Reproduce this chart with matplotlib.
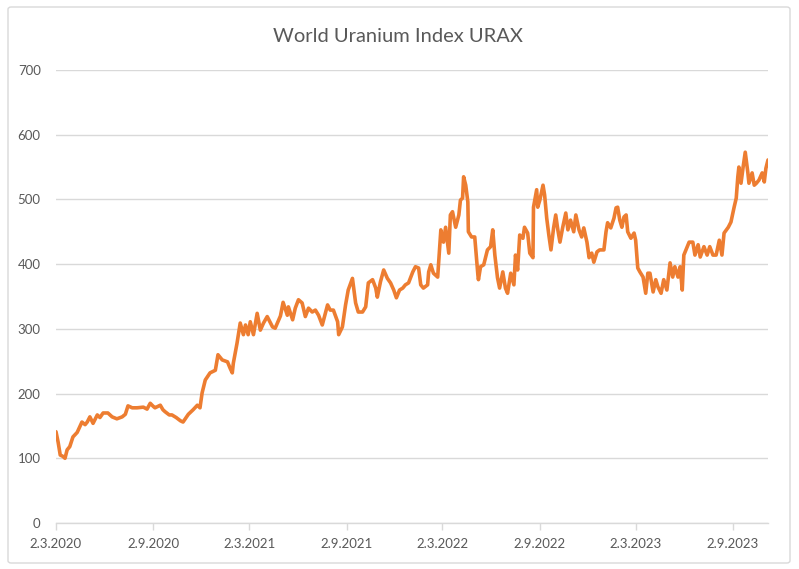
import numpy as np
import matplotlib
matplotlib.use("Agg")
import matplotlib.pyplot as plt
from matplotlib.patches import FancyBboxPatch

title = "World Uranium Index URAX"
start_date = np.datetime64("2020-03-02")

# days since 2.3.2020
day_offsets = [
    0, 4, 8, 13, 17, 21, 26, 32, 40, 49, 55, 59, 64, 70, 78, 83, 89, 98, 106, 115,
    125, 131, 136, 144, 153, 165, 172, 178, 184, 187, 197, 202, 206, 214, 219, 227, 235, 240, 250, 259,
    267, 272, 276, 282, 291, 301, 306, 314, 324, 329, 333, 335, 342, 348, 354, 358, 363, 367, 373, 380,
    386, 392, 399, 409, 414, 424, 429, 437, 439, 447, 452, 458, 465, 471, 477, 484, 490, 496, 503, 513,
    518, 524, 532, 534, 541, 547, 552, 560, 566, 571, 579, 585, 590, 598, 604, 607, 613, 619, 626, 632,
    638, 643, 649, 655, 660, 666, 674, 679, 685, 689, 694, 702, 704, 708, 713, 721, 727, 732, 736, 742,
    745, 749, 755, 761, 764, 768, 770, 774, 778, 779, 785, 791, 797, 798, 802, 808, 815, 821, 825, 829,
    834, 838, 844, 849, 853, 859, 865, 868, 872, 876, 882, 885, 891, 895, 901, 902, 908, 910, 914, 920,
    923, 927, 931, 935, 940, 944, 948, 952, 957, 963, 967, 972, 978, 982, 988, 993, 997, 1003, 1007, 1012,
    1016, 1022, 1027, 1035, 1039, 1042, 1048, 1054, 1058, 1061, 1065, 1069, 1073, 1077, 1080, 1086, 1092, 1095, 1099, 1103,
    1109, 1114, 1118, 1122, 1128, 1133, 1137, 1143, 1148, 1154, 1160, 1165, 1169, 1175, 1179, 1183, 1186, 1190, 1196, 1203,
    1207, 1213, 1217, 1224, 1230, 1235, 1241, 1247, 1253, 1258, 1262, 1270, 1275, 1281, 1285, 1288, 1290, 1294, 1298, 1302,
    1307, 1309, 1315, 1319, 1323, 1328, 1334, 1338, 1341, 1345,
]

urax_values = [
    141, 125, 105, 103, 100, 113, 118, 133, 140, 156, 152, 156, 164, 154, 167, 163, 170, 170, 164, 161,
    164, 168, 181, 178, 178, 179, 176, 185, 180, 178, 182, 175, 172, 167, 167, 163, 158, 156, 168, 175,
    182, 178, 201, 221, 232, 236, 260, 252, 249, 239, 232, 247, 278, 309, 291, 306, 291, 311, 291, 324,
    298, 309, 319, 303, 301, 320, 341, 321, 334, 314, 332, 345, 340, 319, 332, 326, 329, 321, 306, 337,
    329, 329, 311, 291, 303, 337, 360, 378, 340, 326, 326, 334, 371, 376, 363, 349, 373, 391, 378, 371,
    360, 348, 360, 363, 368, 371, 388, 396, 394, 368, 363, 368, 388, 399, 386, 380, 453, 434, 457, 417,
    476, 481, 457, 476, 499, 502, 535, 522, 496, 450, 442, 442, 383, 376, 396, 399, 422, 427, 453, 414,
    379, 363, 388, 363, 355, 386, 368, 414, 391, 445, 440, 457, 448, 417, 410, 488, 515, 488, 499, 522,
    507, 471, 445, 422, 456, 476, 453, 434, 456, 479, 453, 468, 450, 476, 453, 442, 456, 434, 410, 417,
    403, 419, 422, 422, 450, 464, 456, 471, 487, 488, 468, 457, 473, 476, 450, 440, 448, 437, 394, 388,
    380, 355, 386, 386, 357, 376, 365, 355, 376, 360, 402, 380, 396, 380, 396, 360, 414, 422, 434, 434,
    414, 430, 411, 427, 414, 427, 414, 414, 437, 414, 448, 457, 465, 488, 502, 535, 550, 525, 550, 573,
    541, 525, 541, 522, 525, 530, 541, 527, 548, 561,
]

tick_dates = ["2020-03-02", "2020-09-02", "2021-03-02", "2021-09-02",
              "2022-03-02", "2022-09-02", "2023-03-02", "2023-09-02"]
tick_labels = ["2.3.2020", "2.9.2020", "2.3.2021", "2.9.2021",
               "2.3.2022", "2.9.2022", "2.3.2023", "2.9.2023"]
y_ticks = [0, 100, 200, 300, 400, 500, 600, 700]

dates = (start_date + np.array(day_offsets).astype("timedelta64[D]")).astype(object)

W, H = 799, 569
fig = plt.figure(figsize=(W / 100, H / 100), dpi=100)
fig.patch.set_facecolor("white")

# chart border
border = FancyBboxPatch((8 / W, 6 / H), (790 - 8) / W, (562 - 6) / H,
                        boxstyle="round,pad=0,rounding_size=0.004",
                        transform=fig.transFigure, facecolor="none",
                        edgecolor="#D9D9D9", linewidth=1.0, zorder=-1)
fig.patches.append(border)

ax = fig.add_axes([56 / W, 1 - 523 / H, (768 - 56) / W, (523 - 70) / H])
ax.set_facecolor("none")

ax.plot(dates, urax_values, color="#ED7D31", linewidth=2.6,
        solid_joinstyle="round", solid_capstyle="round", zorder=3)

ax.set_ylim(0, 700)
ax.set_yticks(y_ticks)
ax.set_xlim(dates[0], dates[-1])
ax.set_xticks([np.datetime64(d).astype(object) for d in tick_dates])
ax.set_xticklabels(tick_labels)

ax.grid(axis="y", color="#D9D9D9", linewidth=1.0, zorder=0)
ax.grid(axis="x", visible=False)
for s in ["top", "right", "left"]:
    ax.spines[s].set_visible(False)
ax.spines["bottom"].set_color("#D9D9D9")
ax.spines["bottom"].set_linewidth(1.0)
ax.spines["bottom"].set_zorder(1)

ax.tick_params(axis="y", length=0, pad=11, labelsize=9.5, labelcolor="#595959")
ax.tick_params(axis="x", length=5, width=1.0, color="#D9D9D9", pad=6,
               labelsize=9.5, labelcolor="#595959")
for lab in ax.get_xticklabels() + ax.get_yticklabels():
    lab.set_fontfamily("Lato")

fig.text(398 / W, 1 - 37 / H, title, ha="center", va="center",
         fontsize=14.5, color="#595959", fontfamily="Lato")

fig.savefig("out.png", dpi=100, facecolor="white")
